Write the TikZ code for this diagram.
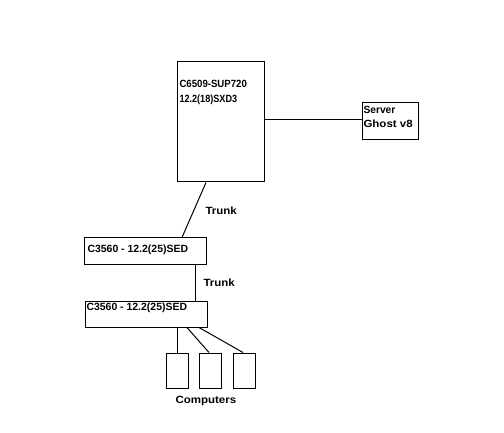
\documentclass[tikz,border=0pt]{standalone}
\usepackage{fontspec}
\usepackage{graphicx}
\setmainfont{Liberation Sans}
\begin{document}
\begin{tikzpicture}[x=1bp,y=-1bp,line width=1bp,
  box/.style={draw,rectangle,inner sep=0pt,line width=1bp},
  lbl/.style={anchor=base west,inner sep=0pt,font=\fontsize{10.5}{12}\selectfont\bfseries}]
\fill[white] (0,0) rectangle (504,433);
\useasboundingbox (0,0) rectangle (504,433);
% boxes
\node[box,minimum width=87bp,minimum height=120bp] (big) at (220.5,122) {};
\node[box,minimum width=56bp,minimum height=37bp] (server) at (390,121.5) {};
\node[box,minimum width=122bp,minimum height=26bp] (sw1) at (145,251) {};
\node[box,minimum width=122bp,minimum height=26bp] (sw2) at (146,314) {};
\node[box,minimum width=22bp,minimum height=35bp] (c1) at (177,370.5) {};
\node[box,minimum width=22bp,minimum height=35bp] (c2) at (210,370.5) {};
\node[box,minimum width=22bp,minimum height=35bp] (c3) at (244,370.5) {};
% texts
\node[lbl] (t1) at (179,87.5) {\scalebox{0.92}[1]{C6509-SUP720}};
\node[lbl] (t2) at (179,103) {\scalebox{0.87}[1]{12.2(18)SXD3}};
\node[lbl] (t3) at (363,114) {\scalebox{0.98}[1]{Server}};
\node[lbl] (t4) at (363,128) {\scalebox{1.1}[1]{Ghost v8}};
\node[lbl] (tr1) at (205,215) {\scalebox{1.1}[1]{Trunk}};
\node[lbl] (t5) at (87,252) {\scalebox{1.0}[1]{C3560 - 12.2(25)SED}};
\node[lbl] (tr2) at (203,286) {\scalebox{1.1}[1]{Trunk}};
\node[lbl] (t6) at (86,310.5) {\scalebox{1.0}[1]{C3560 - 12.2(25)SED}};
\node[lbl] (tc) at (175,403) {\scalebox{1.1}[1]{Computers}};
% connectors
\draw (big.east |- 0,120) -- (server.west |- 0,120);
\draw (big.south -| 206,0) -- (sw1.north -| 182,0);
\draw (sw1.south -| 195,0) -- (sw2.north -| 195,0);
\draw (sw2.south -| 177,0) -- (c1.north);
\draw (sw2.south -| 187,0) -- (c2.north -| 209,0);
\draw (sw2.south -| 199,0) -- (c3.north -| 243,0);
\end{tikzpicture}
\end{document}
